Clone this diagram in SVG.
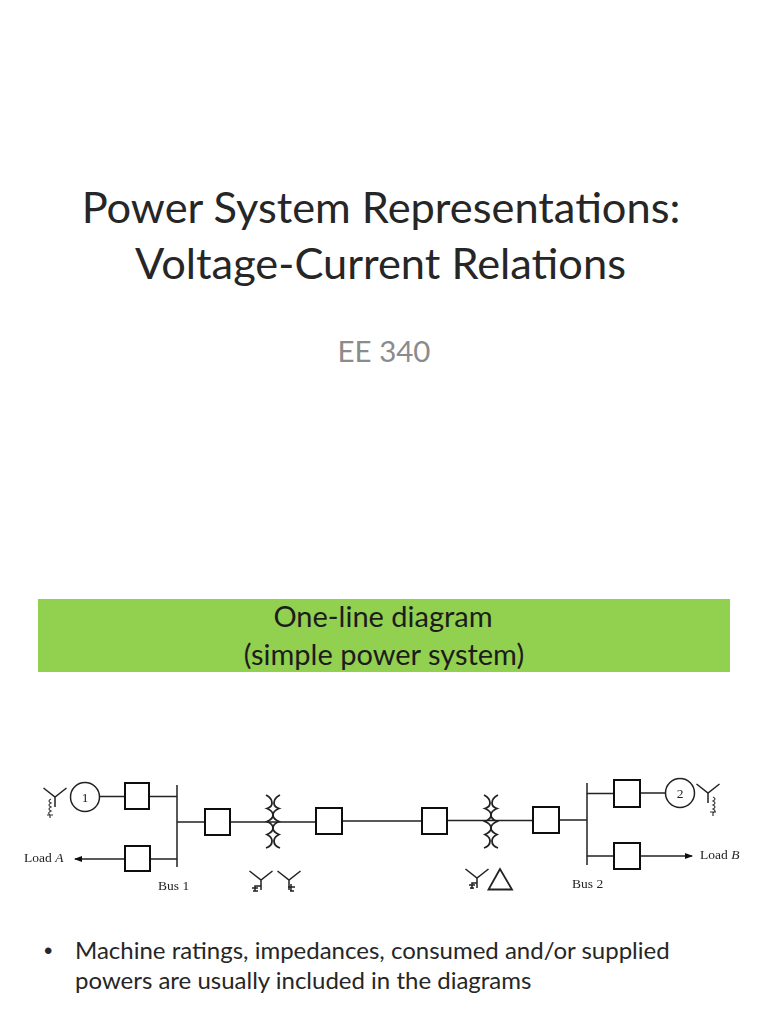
<svg xmlns="http://www.w3.org/2000/svg" width="768" height="1024" viewBox="0 0 768 1024">
<style>
.t{font-family:"Lato","Open Sans",sans-serif;text-anchor:middle}
.title{font-size:43.400px;fill:#262626}
.sub{font-size:29.500px;fill:#8b8b8b}
.band{font-size:29px;fill:#1c1c1c}
.body{font-family:"Lato","Open Sans",sans-serif;font-size:24px;fill:#262626}
.dot{font-family:"Liberation Sans",sans-serif;font-size:24px;fill:#262626}
.lab{font-family:"Liberation Serif",serif;font-size:13.500px;fill:#222}
.w{fill:none;stroke:#222;stroke-width:1.500}
.box{fill:#fff;stroke:#111;stroke-width:2}
.thin{fill:none;stroke:#333;stroke-width:1.200}
</style>
<defs>
<marker id="ah" viewBox="0 0 8 6" refX="7" refY="3" markerWidth="8" markerHeight="6" markerUnits="userSpaceOnUse" orient="auto"><path d="M0 0L8 3L0 6z" fill="#111"/></marker>
<filter id="soft" x="-5%" y="-5%" width="110%" height="110%"><feGaussianBlur stdDeviation="0.4"/></filter>
<g id="coil"><path class="w" style="stroke-width:1.800" d="M-7 0Q-1 3 -1 8Q-1 12 -6 13.500Q0 16 0 20Q0 24 -6 26.500Q0 29 0 33Q0 37 -6 39.500Q-1 42 -1 46Q-1 51 -7 53"/><path class="w" style="stroke-width:1.800" d="M7 0Q1 3 1 8Q1 12 6 13.500Q0 16 0 20Q0 24 6 26.500Q0 29 0 33Q0 37 6 39.500Q1 42 1 46Q1 51 7 53"/></g>
<g id="wye"><path class="w" d="M-11.500 -9L0 0L11.500 -9M0 0V10"/></g>
</defs>
<rect width="768" height="1024" fill="#fff"/>
<g id="title">
<text class="t title" x="381" y="223">Power System Representations:</text>
<text class="t title" x="380.500" y="279">Voltage-Current Relations</text>
<text class="t sub" x="384" y="362">EE 340</text>
</g>
<g id="band">
<rect x="38" y="599" width="692" height="73" fill="#92d050"/>
<text class="t band" x="383" y="627">One-line diagram</text>
<text class="t band" x="384" y="665">(simple power system)</text>
</g>
<g filter="url(#soft)">
<g id="connectors">
<path class="w" d="M99 796.500H125M149 796.500H177M177 785V867M150 859H177M177 822H205M230 822H316M342 821H422M447 820.500H533M559 820H587M587 783V865M587 793.500H614M640 793H665.500M587 856H614"/>
<path class="w" d="M125 859H75" marker-end="url(#ah)"/>
<path class="w" d="M640 856H692" marker-end="url(#ah)"/>
</g>
<g id="gen1"><circle class="w" cx="85" cy="797" r="14.500"/><text class="lab" x="85" y="801.500" text-anchor="middle">1</text></g>
<g id="gen1-wye"><use href="#wye" x="55" y="797"/><path class="thin" d="M51 799Q47 801 51 803Q47 805 51 807Q47 809 51 811Q47 813 50 815V818M47 815H53"/></g>
<g id="cb1"><rect class="box" x="125" y="783" width="24" height="26"/></g>
<g id="cb2"><rect class="box" x="125" y="846" width="25" height="25"/></g>
<g id="cb3"><rect class="box" x="205" y="809" width="25" height="26"/></g>
<g id="t1"><use href="#coil" x="273" y="795"/></g>
<g id="cb4"><rect class="box" x="316" y="808" width="26" height="26"/></g>
<g id="cb5"><rect class="box" x="422" y="808" width="25" height="26"/></g>
<g id="t2"><use href="#coil" x="491" y="795"/></g>
<g id="cb6"><rect class="box" x="533" y="807" width="26" height="26"/></g>
<g id="cb7"><rect class="box" x="614" y="780" width="26" height="27"/></g>
<g id="cb8"><rect class="box" x="614" y="843" width="26" height="26"/></g>
<g id="gen2"><circle class="w" cx="680" cy="793" r="14.500"/><text class="lab" x="680" y="797.500" text-anchor="middle">2</text></g>
<g id="gen2-wye"><use href="#wye" x="708" y="793"/><path class="thin" d="M713 797Q717 799 713 801Q717 803 713 805Q717 807 713 809Q717 811 713 813V816M710 812H716"/></g>
<g id="sym1"><use href="#wye" x="261" y="880"/><path class="w" d="M261 886H255V891M252 888H258M253 891H258"/></g>
<g id="sym2"><use href="#wye" x="289" y="880"/><path class="w" d="M291 884V891M288 887H295M290 891H294"/></g>
<g id="sym3"><use href="#wye" x="477" y="878"/><path class="w" d="M477 883H472V889M469 885H475M470 888H474"/></g>
<g id="sym4"><path class="w" style="stroke-width:1.800" d="M500 869L488.500 889.500H512Z"/></g>
<g id="labels">
<text class="lab" x="24" y="862">Load <tspan font-style="italic">A</tspan></text>
<text class="lab" x="158" y="890">Bus 1</text>
<text class="lab" x="700" y="859">Load <tspan font-style="italic">B</tspan></text>
<text class="lab" x="572" y="888">Bus 2</text>
</g>
</g>
<g id="bullet">
<text class="dot" x="44" y="959">•</text>
<text class="body" x="75" y="959">Machine ratings, impedances, consumed and/or supplied</text>
<text class="body" x="75" y="989">powers are usually included in the diagrams</text>
</g>
</svg>
